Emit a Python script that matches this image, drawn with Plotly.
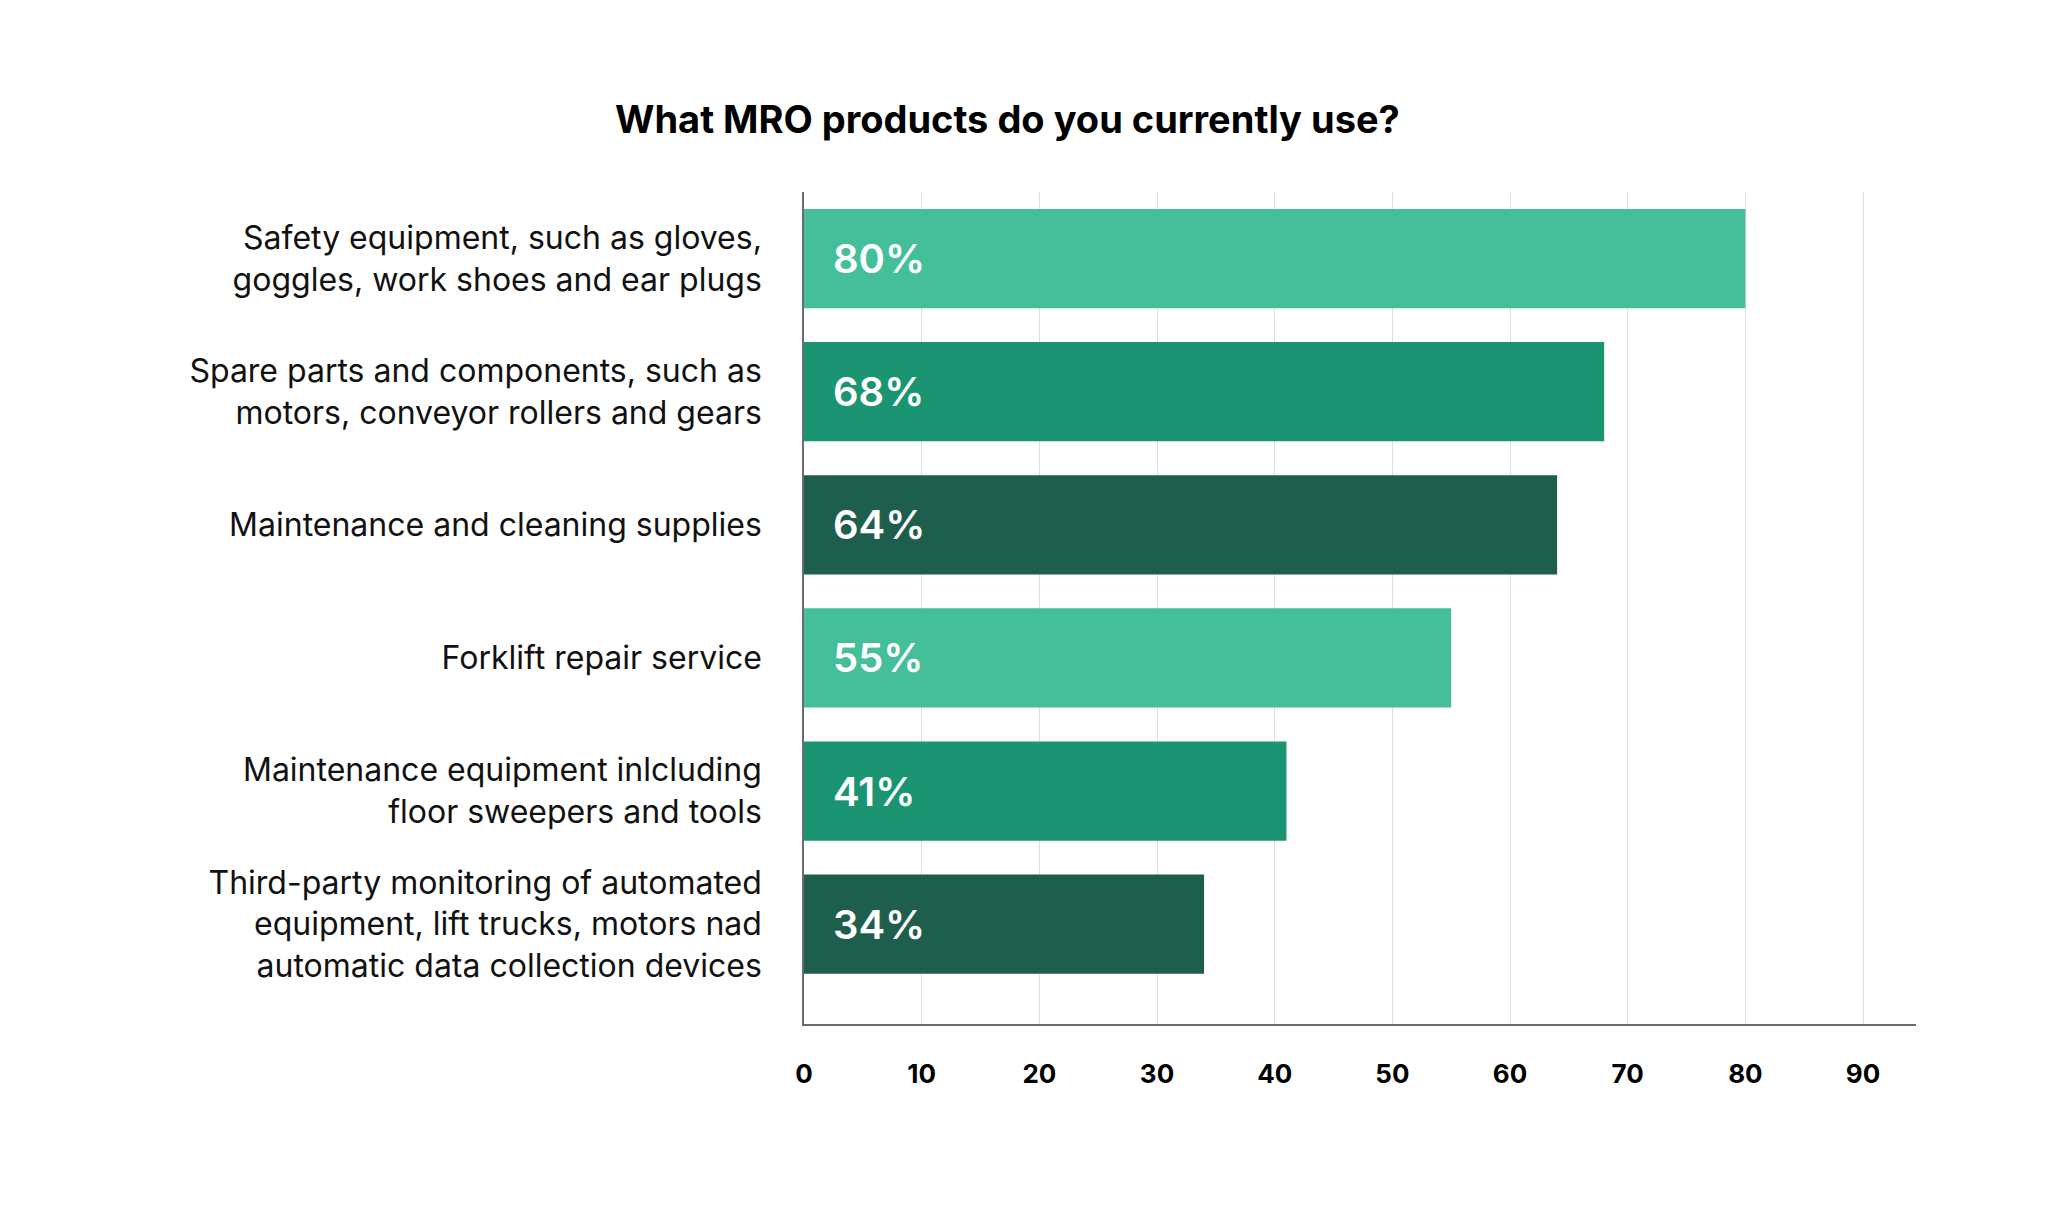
import plotly.graph_objects as go

# Survey answers, top to bottom
categories = [
    "Safety equipment, such as gloves,<br>goggles, work shoes and ear plugs",
    "Spare parts and components, such as<br>motors, conveyor rollers and gears",
    "Maintenance and cleaning supplies",
    "Forklift repair service",
    "Maintenance equipment inlcluding<br>floor sweepers and tools",
    "Third-party monitoring of automated<br>equipment, lift trucks, motors nad<br>automatic data collection devices",
]
values = [80, 68, 64, 55, 41, 34]
x_ticks = [0, 10, 20, 30, 40, 50, 60, 70, 80, 90]

# Colour cycle: light, mid, dark green
bar_colors = ['#45BE9A', '#1B9571', '#1E5E4D', '#45BE9A', '#1B9571', '#1E5E4D']

FONT = "Inter"

fig = go.Figure(go.Bar(
    x=values,
    y=categories,
    orientation='h',
    width=0.745,
    marker=dict(color=bar_colors, line=dict(width=0)),
    hovertemplate='%{x}%<extra></extra>',
))

# Percent labels inside each bar, near its base
for cat, val in zip(categories, values):
    fig.add_annotation(
        x=0, y=cat,
        text=f"{val}%",
        xanchor='left', yanchor='middle',
        xshift=27,
        showarrow=False,
        font=dict(family=FONT, size=40, color='white', weight=600),
    )

fig.update_layout(
    title=dict(
        text="What MRO products do you currently use?",
        x=0.488, xanchor='center',
        y=1 - 112 / 1209, yanchor='middle',
        font=dict(family=FONT, size=38, color='black', weight='bold'),
    ),
    width=2048,
    height=1209,
    margin=dict(l=796, r=140, t=184, b=193),
    plot_bgcolor='white',
    paper_bgcolor='white',
    showlegend=False,
)

fig.update_xaxes(
    range=[0, 94.5],
    tickvals=x_ticks,
    showgrid=True,
    gridcolor='#dedede',
    gridwidth=1,
    zeroline=False,
    showline=True,
    linecolor='#6b6b6b',
    linewidth=1.5,
    ticks='',
    ticklabelstandoff=26,
    tickfont=dict(family=FONT, size=26, color='black', weight='bold'),
)

fig.update_yaxes(
    type='category',
    range=[5.75, -0.5],
    showgrid=False,
    zeroline=False,
    showline=True,
    linecolor='#6b6b6b',
    linewidth=1.5,
    ticks='',
    ticklabelstandoff=34,
    tickfont=dict(family=FONT, size=32, color='#111111'),
)

fig.write_html("out.html")
